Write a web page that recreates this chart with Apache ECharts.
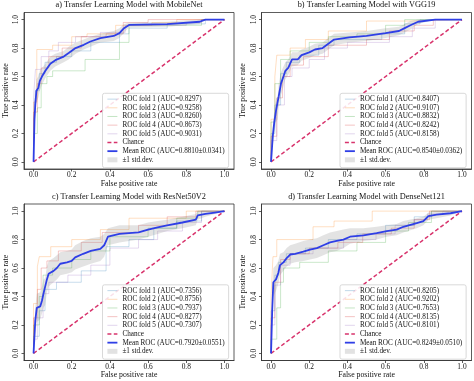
<!DOCTYPE html>
<html><head><meta charset="utf-8">
<script src="https://cdn.jsdelivr.net/npm/echarts@6/dist/echarts.min.js"></script>
<style>html,body{margin:0;padding:0;background:#fff}#c{width:474px;height:381px}</style>
</head><body><div id="c"></div>
<script>
// ---------- DATA ----------
const titles = [
  'a) Transfer Learning Model with MobileNet',
  'b) Transfer Learning Model with VGG19',
  'c) Transfer Learning Model with ResNet50V2',
  'd) Transfer Learning Model with DenseNet121'
];
const tickValues = [0, 0.2, 0.4, 0.6, 0.8, 1.0];
const foldAUC = [
  ['0.8297', '0.9258', '0.8260', '0.8673', '0.9031'],
  ['0.8407', '0.9107', '0.8832', '0.8242', '0.8158'],
  ['0.7356', '0.8756', '0.7937', '0.8277', '0.7307'],
  ['0.8205', '0.9202', '0.7653', '0.8135', '0.8101']
];
const meanAUC = ['0.8810±0.0341', '0.8540±0.0362', '0.7920±0.0551', '0.8249±0.0510'];
const chanceLine = [[0, 0], [1, 1]];

const a_mean = [[0,0],[0.005,0.3],[0.009,0.4],[0.015,0.5],[0.025,0.52],[0.033,0.57],[0.044,0.6],[0.062,0.64],[0.088,0.69],[0.114,0.715],[0.158,0.74],[0.184,0.765],[0.22,0.8],[0.263,0.823],[0.298,0.846],[0.35,0.87],[0.42,0.885],[0.45,0.905],[0.474,0.94],[0.5,0.963],[0.7,0.968],[0.87,0.985],[0.9,1],[1,1]];
const a_band = [[0,0,0],[0.005,0.22,0.38],[0.009,0.32,0.48],[0.015,0.42,0.58],[0.025,0.45,0.6],[0.033,0.5,0.64],[0.044,0.54,0.66],[0.062,0.59,0.69],[0.088,0.64,0.74],[0.114,0.67,0.76],[0.158,0.7,0.78],[0.184,0.72,0.81],[0.22,0.76,0.84],[0.263,0.79,0.86],[0.298,0.81,0.88],[0.35,0.84,0.9],[0.42,0.85,0.92],[0.45,0.87,0.94],[0.474,0.91,0.97],[0.5,0.945,0.98],[0.7,0.95,0.985],[0.87,0.97,1],[0.9,1,1],[1,1,1]];
const a_folds = [
  [[0,0],[0,0.3],[0.01,0.3],[0.01,0.5],[0.03,0.5],[0.03,0.62],[0.06,0.62],[0.06,0.7],[0.12,0.7],[0.12,0.74],[0.2,0.74],[0.2,0.78],[0.3,0.78],[0.3,0.84],[0.45,0.84],[0.45,0.9],[0.5,0.9],[0.5,0.94],[0.7,0.94],[0.7,0.97],[0.9,0.97],[0.9,1],[1,1]],
  [[0,0],[0,0.42],[0.017,0.42],[0.017,0.79],[0.1,0.79],[0.1,0.82],[0.2,0.82],[0.2,0.88],[0.28,0.88],[0.28,0.9],[0.43,0.9],[0.43,0.96],[0.62,0.96],[0.62,0.98],[0.75,0.98],[0.75,1],[1,1]],
  [[0,0],[0,0.2],[0.02,0.2],[0.02,0.38],[0.04,0.38],[0.04,0.55],[0.07,0.55],[0.07,0.6],[0.1,0.6],[0.1,0.64],[0.27,0.64],[0.27,0.72],[0.45,0.72],[0.45,0.84],[0.5,0.84],[0.5,0.96],[0.88,0.96],[0.88,1],[1,1]],
  [[0,0],[0,0.35],[0.02,0.35],[0.02,0.55],[0.04,0.55],[0.04,0.66],[0.08,0.66],[0.08,0.74],[0.15,0.74],[0.15,0.8],[0.25,0.8],[0.25,0.88],[0.38,0.88],[0.38,0.9],[0.47,0.9],[0.47,0.98],[0.6,0.98],[0.6,1],[1,1]],
  [[0,0],[0,0.45],[0.01,0.45],[0.01,0.65],[0.04,0.65],[0.04,0.74],[0.08,0.74],[0.08,0.78],[0.13,0.78],[0.13,0.84],[0.22,0.84],[0.22,0.88],[0.35,0.88],[0.35,0.91],[0.48,0.91],[0.48,0.96],[0.8,0.96],[0.8,0.98],[0.88,0.98],[0.88,1],[1,1]]
];

const b_mean = [[0,0],[0.009,0.18],[0.017,0.28],[0.026,0.36],[0.035,0.37],[0.04,0.46],[0.052,0.55],[0.065,0.6],[0.075,0.64],[0.09,0.66],[0.11,0.72],[0.14,0.72],[0.16,0.75],[0.2,0.77],[0.23,0.79],[0.27,0.8],[0.3,0.83],[0.33,0.86],[0.41,0.875],[0.5,0.885],[0.6,0.905],[0.67,0.92],[0.7,0.94],[0.73,0.96],[0.77,0.985],[0.86,1],[1,1]];
const b_band = [[0,0,0],[0.009,0.12,0.24],[0.017,0.2,0.36],[0.026,0.28,0.44],[0.035,0.3,0.46],[0.04,0.38,0.55],[0.052,0.47,0.63],[0.065,0.53,0.67],[0.075,0.58,0.7],[0.09,0.61,0.72],[0.11,0.67,0.77],[0.14,0.68,0.77],[0.16,0.71,0.79],[0.2,0.73,0.81],[0.23,0.75,0.83],[0.27,0.76,0.84],[0.3,0.79,0.87],[0.33,0.82,0.9],[0.41,0.84,0.91],[0.5,0.85,0.92],[0.6,0.87,0.94],[0.67,0.89,0.95],[0.7,0.91,0.97],[0.73,0.93,0.99],[0.77,0.97,1],[0.86,1,1],[1,1,1]];
const b_folds = [
  [[0,0],[0,0.2],[0.02,0.2],[0.02,0.4],[0.05,0.4],[0.05,0.62],[0.08,0.62],[0.08,0.7],[0.15,0.7],[0.15,0.75],[0.25,0.75],[0.25,0.82],[0.33,0.82],[0.33,0.86],[0.58,0.86],[0.58,0.9],[0.7,0.9],[0.7,0.97],[0.78,0.97],[0.78,1],[1,1]],
  [[0,0],[0,0.3],[0.02,0.3],[0.02,0.6],[0.03,0.6],[0.03,0.75],[0.1,0.75],[0.1,0.8],[0.18,0.8],[0.18,0.86],[0.3,0.86],[0.3,0.92],[0.5,0.92],[0.5,0.99],[0.72,0.99],[0.72,1],[1,1]],
  [[0,0],[0,0.28],[0.02,0.28],[0.02,0.55],[0.05,0.55],[0.05,0.72],[0.1,0.72],[0.1,0.78],[0.2,0.78],[0.2,0.84],[0.3,0.84],[0.3,0.88],[0.45,0.88],[0.45,0.9],[0.6,0.9],[0.6,0.96],[0.7,0.96],[0.7,1],[1,1]],
  [[0,0],[0,0.18],[0.03,0.18],[0.03,0.45],[0.06,0.45],[0.06,0.6],[0.1,0.6],[0.1,0.68],[0.17,0.68],[0.17,0.74],[0.3,0.74],[0.3,0.82],[0.5,0.82],[0.5,0.86],[0.62,0.86],[0.62,0.92],[0.75,0.92],[0.75,0.96],[0.85,0.96],[0.85,1],[1,1]],
  [[0,0],[0,0.15],[0.03,0.15],[0.03,0.4],[0.07,0.4],[0.07,0.6],[0.11,0.6],[0.11,0.66],[0.2,0.66],[0.2,0.72],[0.28,0.72],[0.28,0.8],[0.4,0.8],[0.4,0.84],[0.62,0.84],[0.62,0.88],[0.74,0.88],[0.74,0.94],[0.86,0.94],[0.86,1],[1,1]]
];

const c_mean = [[0,0],[0.009,0.23],[0.017,0.32],[0.035,0.33],[0.044,0.37],[0.052,0.42],[0.061,0.43],[0.07,0.52],[0.079,0.56],[0.105,0.58],[0.122,0.6],[0.14,0.63],[0.175,0.64],[0.2,0.65],[0.218,0.675],[0.26,0.7],[0.3,0.72],[0.35,0.735],[0.37,0.76],[0.39,0.82],[0.45,0.84],[0.55,0.85],[0.6,0.87],[0.65,0.885],[0.7,0.9],[0.78,0.92],[0.85,0.94],[0.86,0.97],[0.9,0.98],[0.95,0.99],[1,1]];
const c_band = [[0,0,0],[0.009,0.14,0.32],[0.017,0.22,0.42],[0.035,0.24,0.43],[0.044,0.28,0.47],[0.052,0.32,0.52],[0.061,0.34,0.53],[0.07,0.43,0.61],[0.079,0.47,0.65],[0.105,0.5,0.67],[0.122,0.52,0.69],[0.14,0.55,0.71],[0.175,0.56,0.72],[0.2,0.57,0.73],[0.218,0.59,0.76],[0.26,0.61,0.79],[0.3,0.63,0.81],[0.35,0.65,0.82],[0.37,0.68,0.84],[0.39,0.76,0.88],[0.45,0.78,0.9],[0.55,0.8,0.9],[0.6,0.82,0.92],[0.65,0.84,0.93],[0.7,0.86,0.94],[0.78,0.88,0.96],[0.85,0.9,0.98],[0.86,0.94,1],[0.9,0.96,1],[0.95,0.98,1],[1,1,1]];
const c_folds = [
  [[0,0],[0,0.12],[0.03,0.12],[0.03,0.3],[0.06,0.3],[0.06,0.45],[0.12,0.45],[0.12,0.5],[0.25,0.5],[0.25,0.58],[0.38,0.58],[0.38,0.75],[0.5,0.75],[0.5,0.8],[0.63,0.8],[0.63,0.88],[0.75,0.88],[0.75,0.93],[0.88,0.93],[0.88,1],[1,1]],
  [[0,0],[0,0.35],[0.02,0.35],[0.02,0.61],[0.03,0.61],[0.03,0.68],[0.09,0.68],[0.09,0.75],[0.2,0.75],[0.2,0.8],[0.35,0.8],[0.35,0.87],[0.5,0.87],[0.5,0.95],[0.8,0.95],[0.8,1],[1,1]],
  [[0,0],[0,0.2],[0.03,0.2],[0.03,0.4],[0.05,0.4],[0.05,0.55],[0.1,0.55],[0.1,0.6],[0.2,0.6],[0.2,0.66],[0.3,0.66],[0.3,0.72],[0.4,0.72],[0.4,0.82],[0.6,0.82],[0.6,0.88],[0.75,0.88],[0.75,0.95],[0.86,0.95],[0.86,1],[1,1]],
  [[0,0],[0,0.25],[0.02,0.25],[0.02,0.45],[0.04,0.45],[0.04,0.6],[0.07,0.6],[0.07,0.65],[0.13,0.65],[0.13,0.72],[0.25,0.72],[0.25,0.78],[0.36,0.78],[0.36,0.85],[0.55,0.85],[0.55,0.9],[0.7,0.9],[0.7,0.96],[0.85,0.96],[0.85,1],[1,1]],
  [[0,0],[0,0.1],[0.02,0.1],[0.02,0.25],[0.05,0.25],[0.05,0.42],[0.08,0.42],[0.08,0.5],[0.18,0.5],[0.18,0.55],[0.3,0.55],[0.3,0.62],[0.4,0.62],[0.4,0.74],[0.55,0.74],[0.55,0.8],[0.65,0.8],[0.65,0.86],[0.78,0.86],[0.78,0.92],[0.88,0.92],[0.88,1],[1,1]]
];

const d_mean = [[0,0],[0.006,0.3],[0.012,0.5],[0.026,0.52],[0.038,0.565],[0.047,0.62],[0.065,0.64],[0.082,0.67],[0.1,0.695],[0.126,0.7],[0.169,0.715],[0.204,0.73],[0.24,0.74],[0.274,0.76],[0.309,0.78],[0.344,0.79],[0.379,0.8],[0.414,0.82],[0.484,0.83],[0.553,0.845],[0.606,0.86],[0.658,0.87],[0.693,0.89],[0.763,0.915],[0.798,0.93],[0.824,0.965],[0.867,0.975],[0.94,0.985],[1,1]];
const d_band = [[0,0,0],[0.006,0.2,0.4],[0.012,0.4,0.6],[0.026,0.44,0.62],[0.038,0.49,0.65],[0.047,0.55,0.7],[0.065,0.58,0.71],[0.082,0.61,0.74],[0.1,0.63,0.76],[0.126,0.64,0.77],[0.169,0.65,0.79],[0.204,0.66,0.8],[0.24,0.67,0.81],[0.274,0.69,0.83],[0.309,0.71,0.85],[0.344,0.72,0.86],[0.379,0.74,0.87],[0.414,0.77,0.88],[0.484,0.79,0.88],[0.553,0.8,0.89],[0.606,0.82,0.9],[0.658,0.83,0.91],[0.693,0.85,0.93],[0.763,0.88,0.95],[0.798,0.9,0.96],[0.824,0.94,0.99],[0.867,0.95,1],[0.94,0.97,1],[1,1,1]];
const d_folds = [
  [[0,0],[0,0.3],[0.02,0.3],[0.02,0.55],[0.04,0.55],[0.04,0.64],[0.08,0.64],[0.08,0.7],[0.18,0.7],[0.18,0.74],[0.3,0.74],[0.3,0.8],[0.45,0.8],[0.45,0.84],[0.6,0.84],[0.6,0.9],[0.75,0.9],[0.75,0.96],[0.84,0.96],[0.84,1],[1,1]],
  [[0,0],[0,0.4],[0.01,0.4],[0.01,0.68],[0.03,0.68],[0.03,0.8],[0.22,0.8],[0.22,0.89],[0.33,0.89],[0.33,0.93],[0.53,0.93],[0.53,1],[1,1]],
  [[0,0],[0,0.1],[0.03,0.1],[0.03,0.32],[0.05,0.32],[0.05,0.5],[0.065,0.5],[0.065,0.6],[0.15,0.6],[0.15,0.64],[0.3,0.64],[0.3,0.72],[0.45,0.72],[0.45,0.78],[0.6,0.78],[0.6,0.86],[0.72,0.86],[0.72,0.92],[0.84,0.92],[0.84,1],[1,1]],
  [[0,0],[0,0.25],[0.02,0.25],[0.02,0.5],[0.05,0.5],[0.05,0.66],[0.1,0.66],[0.1,0.7],[0.2,0.7],[0.2,0.74],[0.35,0.74],[0.35,0.78],[0.48,0.78],[0.48,0.84],[0.63,0.84],[0.63,0.88],[0.75,0.88],[0.75,0.94],[0.83,0.94],[0.83,1],[1,1]],
  [[0,0],[0,0.2],[0.02,0.2],[0.02,0.48],[0.05,0.48],[0.05,0.62],[0.1,0.62],[0.1,0.7],[0.22,0.7],[0.22,0.74],[0.38,0.74],[0.38,0.8],[0.55,0.8],[0.55,0.84],[0.65,0.84],[0.65,0.9],[0.75,0.9],[0.75,0.94],[0.82,0.94],[0.82,0.98],[0.9,0.98],[0.9,1],[1,1]]
];

// ---------- LAYOUT / STYLE ----------
const panels = [
  {mean: a_mean, band: a_band, folds: a_folds},
  {mean: b_mean, band: b_band, folds: b_folds},
  {mean: c_mean, band: c_band, folds: c_folds},
  {mean: d_mean, band: d_band, folds: d_folds}
];
const boxes = [
  {l: 24, t: 12.5}, {l: 261.5, t: 12.5},
  {l: 24, t: 204}, {l: 261.5, t: 204}
];
const GW = 210, GH = 156.5;
const FONT = "'Liberation Serif','Times New Roman',Times,serif";
const foldColors = ['rgba(31,119,180,0.28)', 'rgba(255,127,14,0.28)', 'rgba(44,160,44,0.28)', 'rgba(214,39,40,0.28)', 'rgba(148,103,189,0.28)'];
const chanceColor = '#d8336c';
const meanColor = '#2f3fe6';
const bandColor = 'rgba(128,128,128,0.22)';
const axisColor = '#333';
const textColor = '#111';

const option = {
  animation: false,
  backgroundColor: '#fff',
  title: [], grid: [], xAxis: [], yAxis: [], legend: [], series: []
};

panels.forEach((p, i) => {
  const b = boxes[i];
  option.grid.push({left: b.l, top: b.t, width: GW, height: GH, show: true,
    borderColor: axisColor, borderWidth: 0.8, backgroundColor: 'transparent',
    containLabel: false, outerBoundsMode: 'none'});
  option.title.push({text: titles[i], left: b.l + GW / 2, top: b.t - 11.5, textAlign: 'center', padding: 0,
    textStyle: {fontSize: 8.3, fontWeight: 'normal', fontFamily: FONT, color: textColor}});
  const common = {
    type: 'value', gridIndex: i, min: -0.05, max: 1.05,
    splitLine: {show: false},
    axisLine: {show: true, onZero: false, lineStyle: {color: axisColor, width: 0.8}},
    axisTick: {show: true, length: 2.5, customValues: tickValues, lineStyle: {color: axisColor, width: 0.8}},
    nameLocation: 'middle',
    nameTextStyle: {fontSize: 7.8, fontFamily: FONT, color: textColor},
    nameMoveOverlap: false
  };
  option.xAxis.push(Object.assign({}, common, {
    name: 'False positive rate', nameGap: 10.5,
    axisLabel: {customValues: tickValues, formatter: v => v.toFixed(1), fontSize: 7.4, fontFamily: FONT, color: textColor, margin: 3}
  }));
  option.yAxis.push(Object.assign({}, common, {
    name: 'True positive rate', nameGap: 14.5,
    axisLabel: {customValues: tickValues, formatter: v => v.toFixed(1), fontSize: 7.4, fontFamily: FONT, color: textColor, margin: 4, rotate: 90}
  }));

  const legendData = [];
  p.folds.forEach((f, k) => {
    const name = 'ROC fold ' + (k + 1) + ' (AUC=' + foldAUC[i][k] + ')';
    option.series.push({type: 'line', name, xAxisIndex: i, yAxisIndex: i, data: f,
      symbol: 'none', showSymbol: false, silent: true, z: 2,
      lineStyle: {color: foldColors[k], width: 0.9}, itemStyle: {color: foldColors[k]}});
    legendData.push({name, itemStyle: {opacity: 0}, lineStyle: {width: 1}});
  });
  option.series.push({type: 'line', name: 'Chance', xAxisIndex: i, yAxisIndex: i, data: chanceLine,
    symbol: 'none', showSymbol: false, silent: true, z: 3,
    lineStyle: {color: chanceColor, width: 1.5, type: [4, 2.4]}, itemStyle: {color: chanceColor}});
  legendData.push({name: 'Chance', itemStyle: {opacity: 0}, lineStyle: {width: 1.5}});
  const band = p.band;
  option.series.push({type: 'custom', name: '±1 std.dev.', xAxisIndex: i, yAxisIndex: i, data: band,
    encode: {x: 0, y: [1, 2]}, silent: true, z: 4, itemStyle: {color: '#e0e0e0'},
    renderItem: (params, api) => {
      if (params.dataIndex !== 0) return null;
      const pts = [];
      for (let j = 0; j < band.length; j++) pts.push(api.coord([band[j][0], band[j][2]]));
      for (let j = band.length - 1; j >= 0; j--) pts.push(api.coord([band[j][0], band[j][1]]));
      return {type: 'polygon', shape: {points: pts}, style: {fill: bandColor}};
    }});
  const meanName = 'Mean ROC (AUC=' + meanAUC[i] + ')';
  option.series.push({type: 'line', name: meanName, xAxisIndex: i, yAxisIndex: i, data: p.mean,
    symbol: 'none', showSymbol: false, silent: true, z: 5,
    lineStyle: {color: meanColor, width: 1.8}, itemStyle: {color: meanColor}});
  legendData.push({name: meanName, itemStyle: {opacity: 0}, lineStyle: {width: 1.8}});
  legendData.push({name: '±1 std.dev.', icon: 'rect', itemStyle: {color: '#e2e2e2'}});

  option.legend.push({
    data: legendData, orient: 'vertical', left: b.l + 78.5, top: b.t + 80.8,
    padding: [1.5, 4, 3.5, 4], itemWidth: 10, itemHeight: 5, itemGap: 0,
    selectedMode: false, borderColor: '#cfcfcf', borderWidth: 0.8, borderRadius: 2,
    backgroundColor: 'rgba(255,255,255,0.85)',
    textStyle: {fontSize: 7.2, lineHeight: 8.67, fontFamily: FONT, color: textColor}
  });
});

const chart = echarts.init(document.getElementById('c'), null, {renderer: 'canvas'});
chart.setOption(option);
</script></body></html>
